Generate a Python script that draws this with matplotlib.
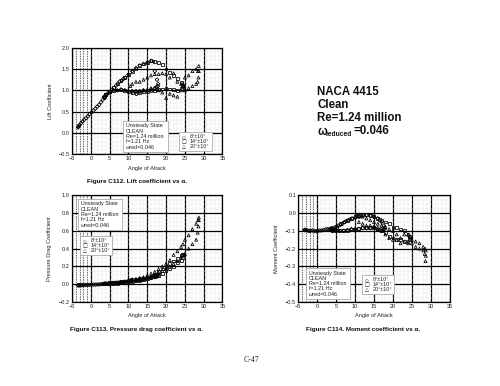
import matplotlib
matplotlib.use('Agg')
import matplotlib.pyplot as plt
from matplotlib.patches import Rectangle
from matplotlib.ticker import MultipleLocator

W, H = 500, 386
plt.rcParams['font.family'] = ['Liberation Sans', 'DejaVu Sans']
plt.rcParams['mathtext.fontset'] = 'custom'
plt.rcParams['mathtext.rm'] = 'Liberation Sans'
plt.rcParams['mathtext.it'] = 'Liberation Sans'

# values, each run goes up in alpha then back down
alpha_8 = [-3.4, -3.3, -3.2, -3.0, -2.6, -2.2, -1.8, -1.3, -0.8, -0.3, 0.2, 0.7, 1.2, 1.7, 2.2, 2.7, 3.2, 3.5, 3.6, 3.8,
           4.2, 4.7, 5.2, 5.7, 6.2, 6.7, 7.2, 7.7, 8.2, 8.7, 9.2, 10, 11, 12, 13, 14, 15, 16, 17, 17.6, 17.9,
           17.8, 17.5, 17, 16, 15, 14, 13, 12, 11, 10, 9, 8, 7, 6, 5, 4]
cl_8 = [.13, .15, .16, .19, .23, .27, .31, .35, .39, .44, .48, .53, .57, .62, .66, .72, .78, .84, .85, .87,
        .90, .94, .98, 1.02, 1.06, 1.11, 1.16, 1.21, 1.23, 1.27, 1.30, 1.37, 1.45, 1.52, 1.58, 1.62, 1.65, 1.69, 1.45, 1.25, 1.15,
        1.10, 1.08, 1.05, 1.02, 1.0, 1.0, .98, .98, .97, .98, 1.0, 1.02, 1.0, .99, .96, .88]
cd_8 = [-.012, -.012, -.012, -.012, -.011, -.01, -.01, -.009, -.008, -.007, -.006, -.005, -.004, -.003, -.002, 0, .002, .004, .005, .006,
        .007, .008, .01, .012, .014, .016, .018, .02, .022, .025, .028, .032, .038, .044, .05, .058, .066, .076, .09, .1, .11,
        .09, .085, .08, .07, .06, .05, .045, .04, .035, .03, .025, .02, .01, .005, 0, .005]
cm_8 = [-.095, -.095, -.095, -.095, -.098, -.1, -.1, -.098, -.1, -.102, -.1, -.098, -.098, -.095, -.092, -.09, -.09, -.09, -.088, -.085,
        -.085, -.08, -.075, -.07, -.065, -.06, -.05, -.045, -.04, -.035, -.03, -.025, -.02, -.015, -.012, -.015, -.02, -.03, -.05, -.07, -.08,
        -.09, -.09, -.09, -.085, -.08, -.085, -.085, -.085, -.09, -.09, -.09, -.095, -.1, -.1, -.1, -.1]

alpha_14 = [3.5, 3.7, 4, 5, 6, 7, 8, 9, 10, 11, 12, 13, 14, 15, 16, 16.5, 17, 18, 19, 20, 21, 22, 23, 24, 24.3, 24.5,
            24.4, 24, 23, 22, 21, 20, 19, 18, 17, 16, 15, 14, 13, 12, 11, 10, 9, 8, 7, 6, 5, 4]
cl_14 = [.84, .86, .9, .98, 1.06, 1.15, 1.23, 1.30, 1.37, 1.45, 1.52, 1.58, 1.62, 1.66, 1.70, 1.69, 1.68, 1.66, 1.60, 1.5, 1.42, 1.35, 1.28, 1.18, 1.12, 1.1,
         1.08, 1.05, 1.0, 1.02, 1.03, 1.04, 1.03, 1.02, 1.0, 1.0, .98, .96, .95, .93, .95, .97, 1.0, 1.02, 1.01, .99, .97, .9]
cd_14 = [.01, .01, .012, .015, .02, .025, .03, .035, .04, .05, .055, .06, .07, .08, .09, .1, .11, .14, .17, .2, .23, .26, .29, .32, .33, .34,
         .3, .27, .24, .2, .17, .15, .12, .1, .08, .07, .06, .05, .04, .035, .03, .025, .02, .015, .01, .005, .005, .005]
cm_14 = [-.095, -.095, -.09, -.08, -.06, -.05, -.04, -.03, -.02, -.015, -.01, -.01, -.015, -.02, -.03, -.035, -.04, -.05, -.06, -.08, -.08, -.09, -.1, -.12, -.13, -.14,
         -.15, -.16, -.16, -.15, -.15, -.14, -.13, -.11, -.1, -.09, -.08, -.08, -.08, -.08, -.085, -.09, -.09, -.1, -.1, -.1, -.1, -.1]

alpha_20 = [10.5, 11, 12, 13, 14, 15, 16, 17, 18, 19, 20, 21, 22, 23, 24, 24.5, 25, 26, 27, 28, 28.5, 28.7, 28.7,
            28.6, 28.4, 28, 27, 26, 25, 24, 23, 22, 21, 20, 19, 18, 17, 16, 15, 14, 13, 12, 11]
cl_20 = [1.1, 1.15, 1.2, 1.2, 1.25, 1.3, 1.35, 1.38, 1.38, 1.4, 1.38, 1.3, 1.4, 1.2, 1.15, 1.15, 1.3, 1.35, 1.45, 1.5, 1.45, 1.57, 1.45,
         1.3, 1.2, 1.15, 1.1, 1.05, 1.0, 1.0, .85, .88, .92, .82, .95, 1.0, 1.05, 1.05, 1.0, 1.0, .97, .97, .99]
cd_20 = [.05, .055, .06, .07, .08, .1, .12, .14, .17, .2, .23, .27, .33, .37, .42, .45, .5, .55, .62, .68, .72, .75, .72,
         .65, .58, .5, .45, .4, .34, .3, .26, .23, .2, .17, .15, .13, .11, .09, .075, .065, .05, .045, .04]
cm_20 = [-.01, -.02, -.02, -.03, -.04, -.05, -.06, -.07, -.08, -.09, -.1, -.12, -.14, -.12, -.12, -.13, -.15, -.16, -.17, -.19, -.2, -.21, -.24,
         -.27, -.23, -.21, -.2, -.19, -.17, -.17, -.16, -.17, -.15, -.15, -.14, -.12, -.1, -.09, -.08, -.07, -.07, -.06, -.05]

x_ticks = [-5, 0, 5, 10, 15, 20, 25, 30, 35]
dashed_alpha = [-4, -3, -2, -1]
series_labels = ['8°±10°', '14°±10°', '20°±10°']
info_lines = ['Unsteady State', 'CLEAN', 'Re=1.24 million', 'f=1.21 Hz', 'ωred=0.046']


def fx(px):
    return px / W


def fy(py):
    return 1 - py / H


def text_box(fig, x0, y0, x1, y1):
    fig.add_artist(Rectangle((fx(x0), fy(y1)), (x1 - x0) / W, (y1 - y0) / H, transform=fig.transFigure,
                             fc='white', ec='#aaaaaa', lw=0.6, zorder=5))


def make_panel(fig, box, coeffs, ylim, ystep, yminor, ylabel, ylabel_x, info_box, leg_box):
    x0, y0, x1, y1 = box
    ax = fig.add_axes([fx(x0), fy(y1), (x1 - x0) / W, (y1 - y0) / H])
    ax.set_xlim(-5, 35)
    ax.set_ylim(*ylim)
    ax.set_xticks(x_ticks)
    ax.xaxis.set_minor_locator(MultipleLocator(1))
    ax.yaxis.set_major_locator(MultipleLocator(ystep))
    ax.yaxis.set_minor_locator(MultipleLocator(yminor))
    ax.grid(which='minor', color='#e6e6e6', lw=0.35)
    ax.grid(which='major', color='black', lw=0.9)
    ax.set_axisbelow(True)
    ax.tick_params(which='both', length=0)
    ax.tick_params(labelsize=4.1, pad=1.5, colors='#222222')
    for s in ax.spines.values():
        s.set_linewidth(0.9)
    for a in dashed_alpha:
        ax.axvline(a, color='#333333', lw=0.5, ls=(0, (2, 1.5)), zorder=1)

    alphas = [alpha_8, alpha_14, alpha_20]
    markers = ['D', 's', '^']
    sizes = [3.5, 4, 4.5]
    for a, c, m, s in zip(alphas, coeffs, markers, sizes):
        ax.scatter(a, c, marker=m, s=s, facecolors='none', edgecolors='black', linewidths=0.55, zorder=3)

    ax.set_xlabel('Angle of Attack', fontsize=4.1, labelpad=3, color='#222222')
    fig.text(fx(ylabel_x), fy((y0 + y1) / 2), ylabel, rotation=90, fontsize=4.1, ha='center', va='center', color='#222222')

    # info box
    text_box(fig, *info_box)
    for i, line in enumerate(info_lines):
        fig.text(fx(info_box[0] + 3), fy(info_box[1] + 5 + i * 5.3), line, fontsize=3.9, va='center', color='#222222', zorder=6)

    # legend box
    text_box(fig, *leg_box)
    for i, lab in enumerate(series_labels):
        yy = leg_box[1] + 4.5 + i * 5.2
        fig.text(fx(leg_box[0] + 11), fy(yy), lab, fontsize=3.9, va='center', color='#222222', zorder=6)
        fig.text(fx(leg_box[0] + 5), fy(yy), '◇□△'[i], fontsize=3.6, ha='center', va='center',
                 family=['DejaVu Sans'], zorder=6)
    return ax


fig = plt.figure(figsize=(W / 100, H / 100), dpi=100)

make_panel(fig, (72, 47.7, 222.5, 154.3), [cl_8, cl_14, cl_20], (-0.5, 2.0), 0.5, 0.1,
           'Lift Coefficient', 50, (123, 121, 168, 152), (179, 132, 212, 151))
make_panel(fig, (72, 195.3, 222.5, 302), [cd_8, cd_14, cd_20], (-0.2, 1.0), 0.2, 0.05,
           'Pressure Drag Coefficient', 50, (78, 199, 122, 230), (80, 236, 112, 255))
make_panel(fig, (298.3, 195.3, 449.7, 302), [cm_8, cm_14, cm_20], (-0.5, 0.1), 0.1, 0.025,
           'Moment Coefficient', 276, (306, 268, 350, 299), (362, 275, 394, 294))

# captions
caption_kw = dict(fontsize=4.6, fontweight='bold', va='center', color='#111111')
fig.text(fx(87), fy(181), 'Figure C112. Lift coefficient vs α.', **caption_kw)
fig.text(fx(70), fy(329), 'Figure C113. Pressure drag coefficient vs α.', **caption_kw)
fig.text(fx(306), fy(329), 'Figure C114. Moment coefficient vs α.', **caption_kw)

# run description on the right
desc_kw = dict(fontsize=8.3, fontweight='bold', va='center', color='#111111')
fig.text(fx(317), fy(92), 'NACA 4415', **desc_kw)
fig.text(fx(317), fy(105), 'Clean', **desc_kw)
fig.text(fx(317), fy(118), 'Re=1.24 million', **desc_kw)
fig.text(fx(317), fy(132), 'ω', **desc_kw)
fig.text(fx(326), fy(135), 'reduced', fontsize=4.9, fontweight='bold', va='center', color='#111111')
fig.text(fx(353), fy(131), '=0.046', **desc_kw)

fig.text(fx(251), fy(360), 'C-47', fontsize=5.6, family=['Liberation Serif'], ha='center', va='center', color='#222222')

fig.savefig('out.png', dpi=100)
